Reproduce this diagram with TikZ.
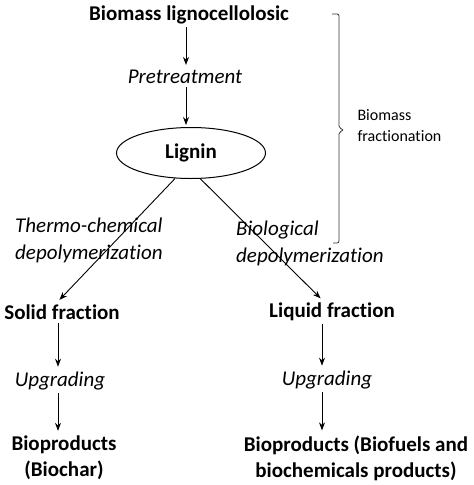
\documentclass[tikz,border=0pt]{standalone}
\usepackage{fontspec}
\setmainfont[Ligatures=NoCommon]{Carlito}
\usetikzlibrary{shapes.geometric}
\usetikzlibrary{arrows.meta}

\begin{document}
\begin{tikzpicture}[>={Stealth[length=8pt,width=6pt]},x=1pt,y=-1pt,
    bold/.style={font=\fontsize{21}{26}\selectfont\bfseries,align=center,inner sep=3pt},
    ital/.style={font=\fontsize{21}{27}\selectfont\itshape,align=left,inner sep=3pt},
    side/.style={font=\fontsize{16}{21}\selectfont,align=left},
    flow/.style={->,line width=0.9pt,shorten >=2pt}]
                \useasboundingbox (0,0) rectangle (474,485);
                \node[bold] (bio) at (189,15) {Biomass lignocellolosic};
                \node[ital] (pre) at (185,77) {Pretreatment};
                \node[bold,draw,ellipse,line width=1pt,minimum width=149pt,minimum height=51pt,inner sep=0pt] (lig) at (191,153) {Lignin};
                \node[ital,anchor=west] (thermo) at (12,240) {Thermo-chemical\\depolymerization};
                \node[ital,anchor=west] (biol) at (233,243) {Biological\\depolymerization};
                \node[bold] (sol) at (62,312) {Solid fraction};
                \node[ital] (upl) at (60,381) {Upgrading};
                \node[bold] (prl) at (64,458) {Bioproducts\\(Biochar)};
                \node[bold] (liq) at (332,312) {Liquid fraction};
                \node[ital] (upr) at (327,380) {Upgrading};
                \node[bold] (prr) at (356,458) {Bioproducts (Biofuels and\\biochemicals products)};
                \node[side,anchor=west] (frac) at (354,126) {Biomass\\fractionation};
                \draw[flow] ([xshift=-3pt]bio.south) -- ([xshift=1pt]pre.north);
                \draw[flow] ([xshift=1pt]pre.south) -- ([xshift=-5pt]lig.north);
                \draw[flow] (lig.-122) -- ([xshift=-4pt]sol.north);
                \draw[flow] (lig.-70) -- ([xshift=-10pt]liq.north);
                \draw[flow] ([xshift=-4pt]sol.south) -- ([xshift=-2pt]upl.north);
                \draw[flow] ([xshift=-2pt]upl.south) -- ([xshift=-6pt]prl.north);
                \draw[flow] ([xshift=-10pt]liq.south) -- ([xshift=-5pt]upr.north);
                \draw[flow] ([xshift=-5pt]upr.south) -- ([xshift=-34pt]prr.north);
                \draw[line width=0.8pt,color=black!80,rounded corners=2pt] (332,14) -- (339,14) -- (339,128) -- (344,130) -- (339,132) -- (339,243) -- (333,243);
            \end{tikzpicture}
\end{document}
